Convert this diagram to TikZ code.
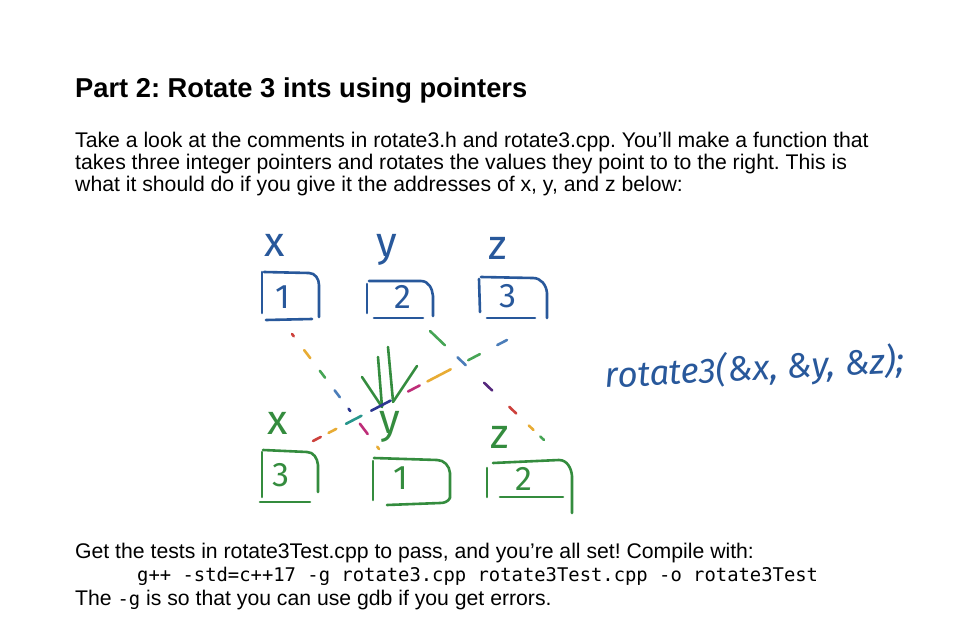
\documentclass[tikz,border=0pt]{standalone}
\usepackage{fontspec}
\setmainfont{Liberation Sans}
\setmonofont{DejaVu Sans Mono}
\newfontfamily\handfont{Fira Sans}
\usetikzlibrary{calc}
\frenchspacing

\definecolor{hblue}{RGB}{40,88,155}
\definecolor{hgreen}{RGB}{52,140,62}
\definecolor{dred}{RGB}{205,65,60}
\definecolor{dyellow}{RGB}{232,172,52}
\definecolor{dgreen}{RGB}{70,165,85}
\definecolor{dblue}{RGB}{75,125,185}
\definecolor{dpurple}{RGB}{85,40,125}
\definecolor{dmagenta}{RGB}{190,45,120}
\definecolor{dteal}{RGB}{40,150,140}
\definecolor{dnavy}{RGB}{45,55,145}

\tikzset{
  pen/.style={line width=2.6pt, line cap=round, line join=round},
  txt/.style={anchor=base west, inner sep=0pt, font=\fontsize{21.2}{25}\selectfont},
  digit/.style={inner sep=0pt, font=\handfont\fontsize{34}{34}\selectfont},
  var/.style={inner sep=0pt, font=\handfont\fontsize{42}{42}\selectfont}
}

% coloured dashes from one point to another: position/length/colour
\newcommand{\dashline}[3]{%
  \foreach \p/\l/\c in {#3}
    \draw[\c, line width=2.6pt, line cap=round] ($(#1)!\p!(#2)$) -- ($(#1)!\p+\l!(#2)$);
}

\begin{document}
\begin{tikzpicture}[x=1pt, y=-1pt]
    \useasboundingbox[fill=white] (0,0) rectangle (954,632);

    % text
    \node[anchor=base west, inner sep=0pt, font=\bfseries\fontsize{27.3}{30}\selectfont] (title) at (75,97) {Part 2: Rotate 3 ints using pointers};
    \node[txt] (l1) at (75,147) {Take a look at the comments in rotate3.h and rotate3.cpp. You’ll make a function that};
    \node[txt] (l2) at (75,169) {takes three integer pointers and rotates the values they point to to the right. This is};
    \node[txt] (l3) at (75,191) {what it should do if you give it the addresses of x, y, and z below:};
    \node[txt] (l4) at (75,558) {Get the tests in rotate3Test.cpp to pass, and you’re all set! Compile with:};
    \node[txt, font=\ttfamily\fontsize{18.85}{22}\selectfont] (l5) at (137,581) {g++ -std=c++17 -g rotate3.cpp rotate3Test.cpp -o rotate3Test};
    \node[txt] (l6) at (75,605) {The {\ttfamily\fontsize{18.85}{22}\selectfont -g} is so that you can use gdb if you get errors.};

    % before
    \node[var, hblue] (vx) at (275,245) {x};
    \node[var, hblue] (vy) at (387,250) {y};
    \node[var, hblue] (vz) at (498,248) {z};
    \node[digit, hblue] (t1) at (283,297) {1};
    \node[digit, hblue] (t2) at (403,297) {2};
    \node[digit, hblue] (t3) at (508,296) {3};

    \draw[pen, hblue] (262,313) -- (262,272);
    \draw[pen, hblue] (264,272) -- (309,273) to[out=0, in=90] (319,285) -- (319,317);
    \draw[pen, hblue] (266,320) -- (312,319);
    \draw[pen, hblue] (367,313) -- (367,284);
    \draw[pen, hblue] (369,281) -- (421,281) to[out=0, in=95] (433,296) -- (433,316);
    \draw[pen, hblue] (374,318) -- (423,318);
    \draw[pen, hblue] (480,312) -- (479,279);
    \draw[pen, hblue] (481,277) -- (533,278) to[out=0, in=95] (547,293) -- (547,318);
    \draw[pen, hblue] (487,318) -- (535,318);

    % after
    \node[var, hgreen] (wx) at (278,423) {x};
    \node[var, hgreen] (wy) at (390,427) {y};
    \node[var, hgreen] (wz) at (500,437) {z};
    \node[digit, hgreen] (b1) at (281,475) {3};
    \node[digit, hgreen] (b2) at (401,478) {1};
    \node[digit, hgreen] (b3) at (524,479) {2};

    \draw[pen, hgreen] (262,497) -- (262,452);
    \draw[pen, hgreen] (263,450) -- (307,452) to[out=0, in=95] (318,465) -- (318,492);
    \draw[pen, hgreen] (260,502) -- (310,502);
    \draw[pen, hgreen] (373,500) -- (373,461);
    \draw[pen, hgreen] (374,458) -- (437,460) to[out=0, in=95] (450,473) -- (450,498);
    \draw[pen, hgreen] (387,505) -- (440,503) to[out=0, in=-120] (450,498);
    \draw[pen, hgreen] (487,497) -- (487,468);
    \draw[pen, hgreen] (493,463) -- (559,460) to[out=0, in=95] (572,476) -- (572,513);
    \draw[pen, hgreen] (500,497) -- (563,497);

    % green arrow
    \draw[pen, hgreen] (378,357) -- (382,407);
    \draw[pen, hgreen] (388,347) -- (393,401);
    \draw[pen, hgreen] (362,377) -- (382,407);
    \draw[pen, hgreen] (417,366) -- (393,402);

    % moves
    \coordinate (fromx) at (292,334);
    \coordinate (toy)   at (379,449);
    \coordinate (fromy) at (430,331);
    \coordinate (toz)   at (545,441);
    \coordinate (fromz) at (507,340);
    \coordinate (tox)   at (313,441);
    \dashline{fromx}{toy}{0/0.02/dred, 0.14/0.07/dyellow, 0.32/0.06/dgreen, 0.49/0.06/dblue, 0.65/0.02/dnavy, 0.78/0.09/dmagenta, 0.98/0.02/dyellow}
    \dashline{fromy}{toz}{0/0.13/dgreen, 0.24/0.07/dblue, 0.47/0.07/dpurple, 0.69/0.06/dred, 0.86/0.04/dyellow, 0.96/0.03/dgreen}
    \dashline{fromz}{tox}{0/0.05/dblue, 0.14/0.06/dgreen, 0.29/0.12/dyellow, 0.45/0.06/dmagenta, 0.6/0.1/dnavy, 0.75/0.08/dteal, 0.88/0.04/dyellow, 0.96/0.04/dred}

    % call
    \node[hblue, inner sep=0pt, rotate=3, font=\handfont\itshape\fontsize{35}{35}\selectfont] (call) at (755,369) {rotate3(\&x, \&y, \&z);};
\end{tikzpicture}
\end{document}
